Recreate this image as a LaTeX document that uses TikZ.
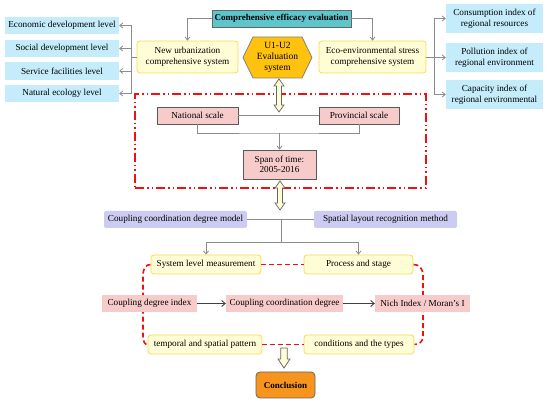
\documentclass[tikz,border=0pt]{standalone}
\usepackage{fontspec}
\setmainfont{Liberation Serif}
\usetikzlibrary{arrows.meta,shapes.symbols,backgrounds}
\definecolor{lblue}{HTML}{C5ECFA}
\definecolor{tealbox}{HTML}{5CC6CC}
\definecolor{lyel}{HTML}{FFFDD6}
\definecolor{yborder}{HTML}{F5DC50}
\definecolor{pinkf}{HTML}{F8CBCB}
\definecolor{lav}{HTML}{CCCCF2}
\definecolor{goldf}{HTML}{FFC20E}
\definecolor{orangef}{HTML}{F7941D}
\definecolor{lgray}{HTML}{8C8C8C}
\definecolor{redl}{HTML}{F01010}
\tikzset{
  base/.style={inner sep=0pt, align=center, font=\fontsize{9.2}{10.6}\selectfont},
  bluebox/.style={base, fill=lblue},
  ylbox/.style={base, fill=lyel, draw=yborder, line width=0.8pt, rounded corners=3pt},
  pinkbd/.style={base, fill=pinkf, draw=black!65, line width=0.8pt},
  pinkbox/.style={base, fill=pinkf},
  lavbox/.style={base, fill=lav, rounded corners=2pt},
  gline/.style={draw=lgray, line width=0.8pt},
  garrow/.style={gline, -{Straight Barb[length=3pt,width=5pt]}},
  darrow/.style={draw=black!75, line width=0.9pt, -{Straight Barb[length=3.5pt,width=6pt]}},
  reddash/.style={draw=redl, line width=1.6pt, dash pattern=on 5pt off 3pt},
  reddashdot/.style={draw=redl, line width=1.6pt, dash pattern=on 9pt off 3pt on 1.5pt off 3pt on 1.5pt off 3pt},
  hollow/.style={draw=black!60, fill=lyel, line width=0.7pt, line join=miter}
}
\begin{document}
\begin{tikzpicture}[x=1pt,y=-1pt]
\useasboundingbox (0,0) rectangle (550,403);
% top
\node[base, fill=tealbox, draw=black!60, line width=0.8pt, minimum width=139, minimum height=17, font=\fontsize{9}{10.5}\selectfont\bfseries] (comp) at (281.5,18.5) {Comprehensive efficacy evaluation};
\node[ylbox, minimum width=101, minimum height=32] (nu) at (187.5,57) {New urbanization\\comprehensive system};
\node[base, shape=signal, signal to=west and east, signal pointer angle=128, fill=goldf, draw=black!50, line width=0.8pt, minimum width=69, minimum height=41, font=\fontsize{9.5}{10.8}\selectfont] (hex) at (277.5,57.5) {U1-U2\\Evaluation\\system};
\node[ylbox, minimum width=107, minimum height=32] (eco) at (372.5,57) {Eco-environmental stress\\comprehensive system};
% left boxes
\node[bluebox, minimum width=114, minimum height=17.5] (e1) at (62,25.5) {Economic development  level};
\node[bluebox, minimum width=114, minimum height=17.5] (e2) at (62,48.5) {Social development  level};
\node[bluebox, minimum width=114, minimum height=17.5] (e3) at (62,71) {Service facilities level};
\node[bluebox, minimum width=114, minimum height=17.5] (e4) at (62,93.5) {Natural ecology level};
% right boxes
\node[bluebox, minimum width=97, minimum height=29] (r1) at (494.5,18.5) {Consumption  index of\\regional resources};
\node[bluebox, minimum width=97, minimum height=29] (r2) at (494.5,57.5) {Pollution index of\\regional environment};
\node[bluebox, minimum width=97, minimum height=29] (r3) at (494.5,94.5) {Capacity index of\\regional environmental};
% connectors top
\draw[garrow] (comp.west) -| (nu.north);
\draw[garrow] (comp.east) -| (eco.north);
\coordinate (jl) at (131,57);
\coordinate (jr) at (434,57);
\draw[gline] (nu.west) -- (jl);
\draw[garrow] (jl) |- (e1.east);
\draw[garrow] (jl) |- (e2.east);
\draw[garrow] (jl) |- (e3.east);
\draw[garrow] (jl) |- (e4.east);
\draw[gline] (eco.east) -- (jr);
\draw[garrow] (jr) |- (r1.west);
\draw[garrow] (jr) |- (r2.west);
\draw[garrow] (jr) |- (r3.west);
% red frame
\node[reddashdot, minimum width=291, minimum height=94, inner sep=0pt] (frame) at (280.5,141) {};
\node[pinkbd, minimum width=81, minimum height=17] (ns) at (197.5,115.5) {National scale};
\node[pinkbd, minimum width=80, minimum height=17] (ps) at (359,115.5) {Provincial scale};
\node[pinkbd, minimum width=73, minimum height=29] (span) at (279.5,164.5) {Span of time:\\2005-2016};
\draw[gline] (ns.east) -- (ps.west);
\coordinate (jm) at (279.5,133);
\draw[gline] (ns.south) |- (jm) -| (ps.south);
\draw[garrow] (jm) -- (span.north);
% hollow double arrows
\draw[hollow] (279,79) -- (284,86) -- (281.5,86) -- (281.5,105) -- (284,105) -- (279,112) -- (274,105) -- (276.5,105) -- (276.5,86) -- (274,86) -- cycle;
\draw[hollow] (280,181) -- (285,188) -- (282.5,188) -- (282.5,203) -- (285,203) -- (280,210) -- (275,203) -- (277.5,203) -- (277.5,188) -- (275,188) -- cycle;
% methods
\node[lavbox, minimum width=143, minimum height=17] (m1) at (175.5,219.5) {Coupling coordination degree model};
\node[lavbox, minimum width=143, minimum height=17] (m2) at (385.5,219.5) {Spatial layout recognition method};
\draw[gline] (m1.east) -- (m2.west);
\coordinate (jm2) at (281,219.5);
\coordinate (jm3) at (281,242);
\draw[gline] (jm2) -- (jm3);
% level boxes
\node[ylbox, minimum width=110, minimum height=19] (sl) at (206,264.5) {System level measurement};
\node[ylbox, minimum width=109, minimum height=19] (pr) at (358.5,264.5) {Process and stage};
\draw[garrow] (jm3) -| (sl.north);
\draw[garrow] (jm3) -| (pr.north);
% coupling row
\node[pinkbox, minimum width=95, minimum height=17] (c1) at (149.5,303.5) {Coupling degree index};
\node[pinkbox, minimum width=117, minimum height=17] (c2) at (284.5,303.5) {Coupling  coordination degree};
\node[pinkbox, minimum width=95, minimum height=17] (c3) at (422.5,303.5) {Nich Index  / Moran's I};
\draw[darrow] (c1.east) -- (c2.west);
\draw[darrow] (c2.east) -- (c3.west);
% bottom
\node[ylbox, minimum width=114, minimum height=19] (t1) at (205,344.5) {temporal and spatial pattern};
\node[ylbox, minimum width=110, minimum height=19] (t2) at (359,344.5) {conditions and the types};
\begin{scope}[on background layer]
\draw[reddash] (sl.west) .. controls (146,264.5) and (143,268) .. (143,276) -- (143,336) .. controls (143,342) and (145,344.5) .. (t1.west);
\draw[reddash] (pr.east) .. controls (419,264.5) and (423,268) .. (423,276) -- (423,336) .. controls (423,342) and (419,344.5) .. (t2.east);
\end{scope}
\draw[reddash] (sl.east) -- (pr.west);
\draw[reddash] (t1.east) -- (t2.west);
\draw[hollow] (280.7,348) -- (287.3,348) -- (287.3,359) -- (290,359) -- (284,368) -- (278,359) -- (280.7,359) -- cycle;
\node[base, fill=orangef, draw=black!60, line width=0.8pt, rounded corners=4pt, minimum width=59, minimum height=26, font=\fontsize{9}{10.5}\selectfont\bfseries] (concl) at (285.5,385) {Conclusion};
\end{tikzpicture}
\end{document}
